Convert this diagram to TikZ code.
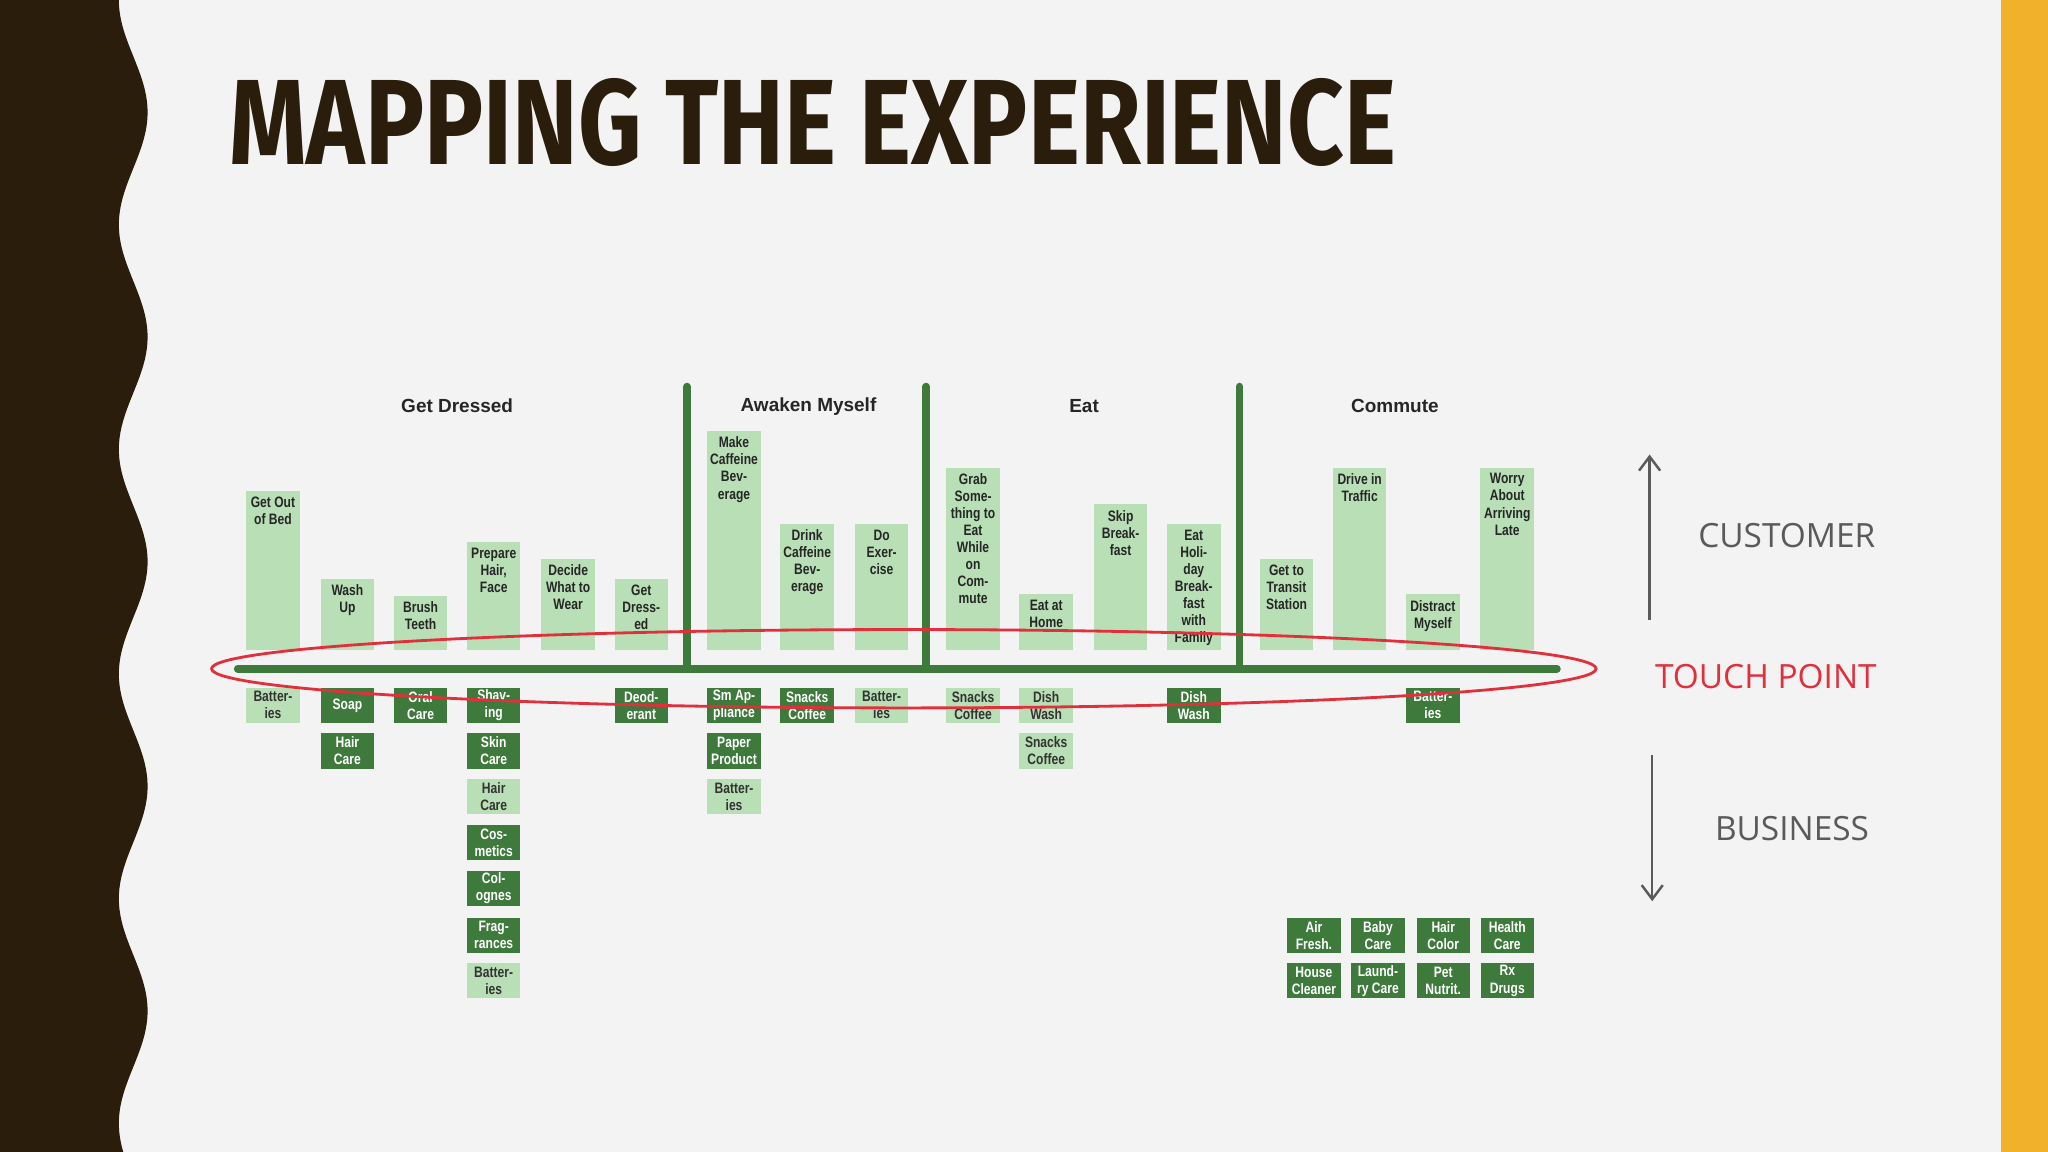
\documentclass[tikz,border=0pt]{standalone}
\usepackage{fontspec}
\usetikzlibrary{arrows.meta}
\setmainfont{Liberation Sans}
\newfontfamily\titlefont{Fira Sans}
\newfontfamily\nfont[FakeStretch=0.8]{Liberation Sans}
\newfontfamily\handfont{Open Sans}
\definecolor{bgc}{HTML}{F3F3F4}
\definecolor{brownc}{HTML}{2A1D0C}
\definecolor{yellowc}{HTML}{F2B12A}
\definecolor{dgreen}{HTML}{3E7A3C}
\definecolor{lgreen}{HTML}{B9DFB6}
\definecolor{redc}{HTML}{E0303C}
\definecolor{handgray}{HTML}{5A5A5A}
\tikzset{
  bartext/.style={anchor=north,align=center,inner sep=0pt,font=\nfont\bfseries\fontsize{4.3}{4.85}\selectfont,text=black!85},
  catlabel/.style={inner sep=0pt,font=\bfseries\fontsize{5.4}{6}\selectfont,text=black!85},
  dbox/.style={fill=dgreen,text=white,minimum width=15.2pt,minimum height=10pt,inner sep=0pt,align=center,font=\nfont\bfseries\fontsize{4.3}{4.85}\selectfont},
  lbox/.style={dbox,fill=lgreen,text=black!80},
  axis/.style={draw=dgreen,line width=2.2pt,line cap=round},
  hand/.style={text=handgray,font=\handfont\fontsize{9.5}{11}\selectfont},
  harrow/.style={draw=handgray,line width=0.7pt,-{Straight Barb[length=4pt,width=6pt]}}
}
\begin{document}
\begin{tikzpicture}[x=0.13061mm,y=-0.13061mm]
\useasboundingbox (0,0) rectangle (1568,882);
\fill[bgc] (0,0) rectangle (1568,882);
\fill[brownc] (0,0) -- plot[domain=0:882,samples=220,smooth] ({102-11*cos(\x/172*360)},\x) -- (0,882) -- cycle;
\fill[yellowc] (1532,0) rectangle (1568,882);
\node[anchor=south west,inner sep=0pt,text=brownc] (title) at (175,128) {\resizebox{332pt}{24.5pt}{\titlefont\bfseries MAPPING THE EXPERIENCE}};
% category labels
\node[catlabel] (c1) at (350,311) {Get Dressed};
\node[catlabel] (c2) at (619,311) {Awaken Myself};
\node[catlabel] (c3) at (830,311) {Eat};
\node[catlabel] (c4) at (1068,311) {Commute};
% bars
\foreach \x/\t/\s [count=\i] in {
 209/376/{Get Out\\of Bed}, 266/443/{Wash\\Up}, 322/456/{Brush\\Teeth},
 378/415/{Prepare\\Hair,\\Face}, 435/428/{Decide\\What to\\Wear}, 491/443/{Get\\Dress-\\ed},
 562/330/{Make\\Caffeine\\Bev-\\erage}, 618/401/{Drink\\Caffeine\\Bev-\\erage}, 675/401/{Do\\Exer-\\cise},
 745/358/{Grab\\Some-\\thing to\\Eat\\While\\on\\Com-\\mute}, 801/455/{Eat at\\Home}, 858/386/{Skip\\Break-\\fast},
 914/401/{Eat\\Holi-\\day\\Break-\\fast\\with\\Family},
 985/428/{Get to\\Transit\\Station}, 1041/358/{Drive in\\Traffic}, 1097/455/{Distract\\Myself},
 1154/358/{Worry\\About\\Arriving\\Late}}{
  \fill[lgreen] (\x-20.5,\t) rectangle (\x+20.5,498);
  \node[bartext] (bar\i) at (\x,\t+4) {\s};
}
% axis
\coordinate (aL) at (182,512); \coordinate (aR) at (1192,512);
\draw[axis] (aL) -- (aR);
\foreach \x [count=\i] in {526,709,949}{
  \coordinate (dt\i) at (\x,296); \coordinate (db\i) at (\x,512);
  \draw[axis] (dt\i) -- (db\i);
}
% business boxes
\foreach \x/\y/\st/\s [count=\i] in {
 209/540/lbox/{Batter-\\ies},
 266/540/dbox/{Soap}, 266/575/dbox/{Hair\\Care},
 322/540/dbox/{Oral\\Care},
 378/540/dbox/{Shav-\\ing}, 378/575/dbox/{Skin\\Care}, 378/610/lbox/{Hair\\Care},
 378/645/dbox/{Cos-\\metics}, 378/680/dbox/{Col-\\ognes}, 378/716/dbox/{Frag-\\rances}, 378/751/lbox/{Batter-\\ies},
 491/540/dbox/{Deod-\\erant},
 562/540/dbox/{Sm Ap-\\pliance}, 562/575/dbox/{Paper\\Product}, 562/610/lbox/{Batter-\\ies},
 618/540/dbox/{Snacks\\Coffee}, 675/540/lbox/{Batter-\\ies},
 745/540/lbox/{Snacks\\Coffee}, 801/540/lbox/{Dish\\Wash}, 801/575/lbox/{Snacks\\Coffee},
 914/540/dbox/{Dish\\Wash}, 1097/540/dbox/{Batter-\\ies},
 1006/716/dbox/{Air\\Fresh.}, 1055/716/dbox/{Baby\\Care}, 1105/716/dbox/{Hair\\Color}, 1154/716/dbox/{Health\\Care},
 1006/751/dbox/{House\\Cleaner}, 1055/751/dbox/{Laund-\\ry Care}, 1105/751/dbox/{Pet\\Nutrit.}, 1154/751/dbox/{Rx\\Drugs}}{
  \node[\st] (biz\i) at (\x,\y) {\s};
}
% red touch point loop
\draw[redc,line width=0.8pt] (692,512) ellipse [x radius=530, y radius=30];
% hand labels
\coordinate (cu1) at (1263,475); \coordinate (cu2) at (1263,348);
\draw[harrow] (cu1) -- (cu2);
\coordinate (bu1) at (1265,578); \coordinate (bu2) at (1265,690);
\draw[harrow] (bu1) -- (bu2);
\node[hand] (cust) at (1368,410) {CUSTOMER};
\node[hand,text=redc] (tp) at (1352,518) {TOUCH POINT};
\node[hand] (bus) at (1372,634) {BUSINESS};
\end{tikzpicture}
\end{document}
